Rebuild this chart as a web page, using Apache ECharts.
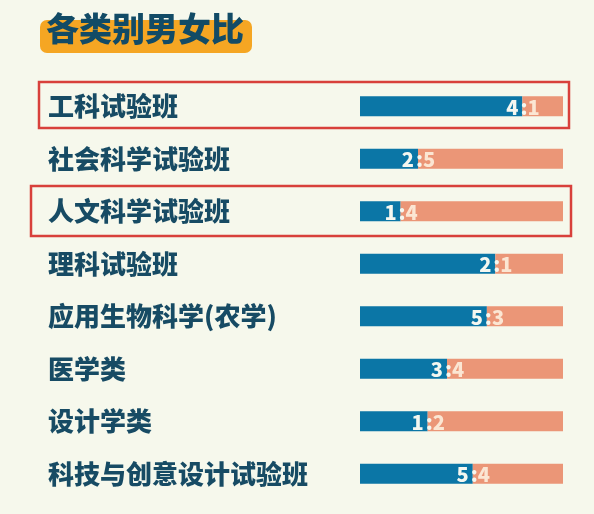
<!DOCTYPE html>
<html><head><meta charset="utf-8">
<script src="https://cdn.jsdelivr.net/npm/echarts@6/dist/echarts.min.js"></script>
<style>html,body{margin:0;padding:0;background:#f6f8ec;}#c{width:594px;height:514px;}</style>
</head><body><div id="c"></div>
<script>
const categories = ['工科试验班','社会科学试验班','人文科学试验班','理科试验班','应用生物科学(农学)','医学类','设计学类','科技与创意设计试验班'];
const maleRatio = [4,2,1,2,5,3,1,5];
const femaleRatio = [1,5,4,1,3,4,2,4];
const title = '各类别男女比';

const maleShare = maleRatio.map((m,i)=> m/(m+femaleRatio[i]));
const femaleShare = femaleRatio.map((f,i)=> f/(maleRatio[i]+f));

const numFont = 'Noto Sans CJK SC';
const chart = echarts.init(document.getElementById('c'));
chart.setOption({
  backgroundColor:'#f6f8ec',
  animation:false,
  grid:{left:360,right:31,top:80,bottom:14},
  xAxis:{type:'value',min:0,max:1,show:false},
  yAxis:{type:'category',data:categories,inverse:true,
    axisLine:{show:false},axisTick:{show:false},
    axisLabel:{align:'left',margin:312,fontSize:26,fontWeight:900,color:'#174b64',
      fontFamily:'Noto Sans CJK SC'}},
  series:[
    {type:'bar',stack:'s',barWidth:20,data:maleShare,itemStyle:{color:'#0b76a6'},
     label:{show:true,position:'insideRight',distance:0,offset:[5,1],
       formatter:p=>'{n|'+maleRatio[p.dataIndex]+'}{c|:}',
       rich:{n:{fontSize:20,fontWeight:900,color:'#f4f7f0',fontFamily:numFont},
             c:{fontSize:20,fontWeight:900,color:'#f4f7f0',fontFamily:numFont,padding:[0,0,0,2]}}}},
    {type:'bar',stack:'s',barWidth:20,data:femaleShare,itemStyle:{color:'#eb9677'},
     label:{show:true,position:'insideLeft',distance:5,offset:[0,1],
       formatter:p=>String(femaleRatio[p.dataIndex]),
       fontSize:20,fontWeight:900,color:'#fbe6d3',fontFamily:numFont}}
  ],
  graphic:[
    {type:'rect',shape:{x:40,y:20,width:212,height:33,r:7},style:{fill:'#f5a623'}},
    {type:'text',x:46,y:28,style:{text:title,font:'900 33px "Noto Sans CJK SC"',fill:'#124b66',verticalAlign:'middle'}},
    {type:'rect',shape:{x:39,y:82,width:530,height:46},style:{fill:'none',stroke:'#d8403b',lineWidth:2.5}},
    {type:'rect',shape:{x:31,y:186,width:540,height:50},style:{fill:'none',stroke:'#d8403b',lineWidth:2.5}}
  ]
});
</script></body></html>
